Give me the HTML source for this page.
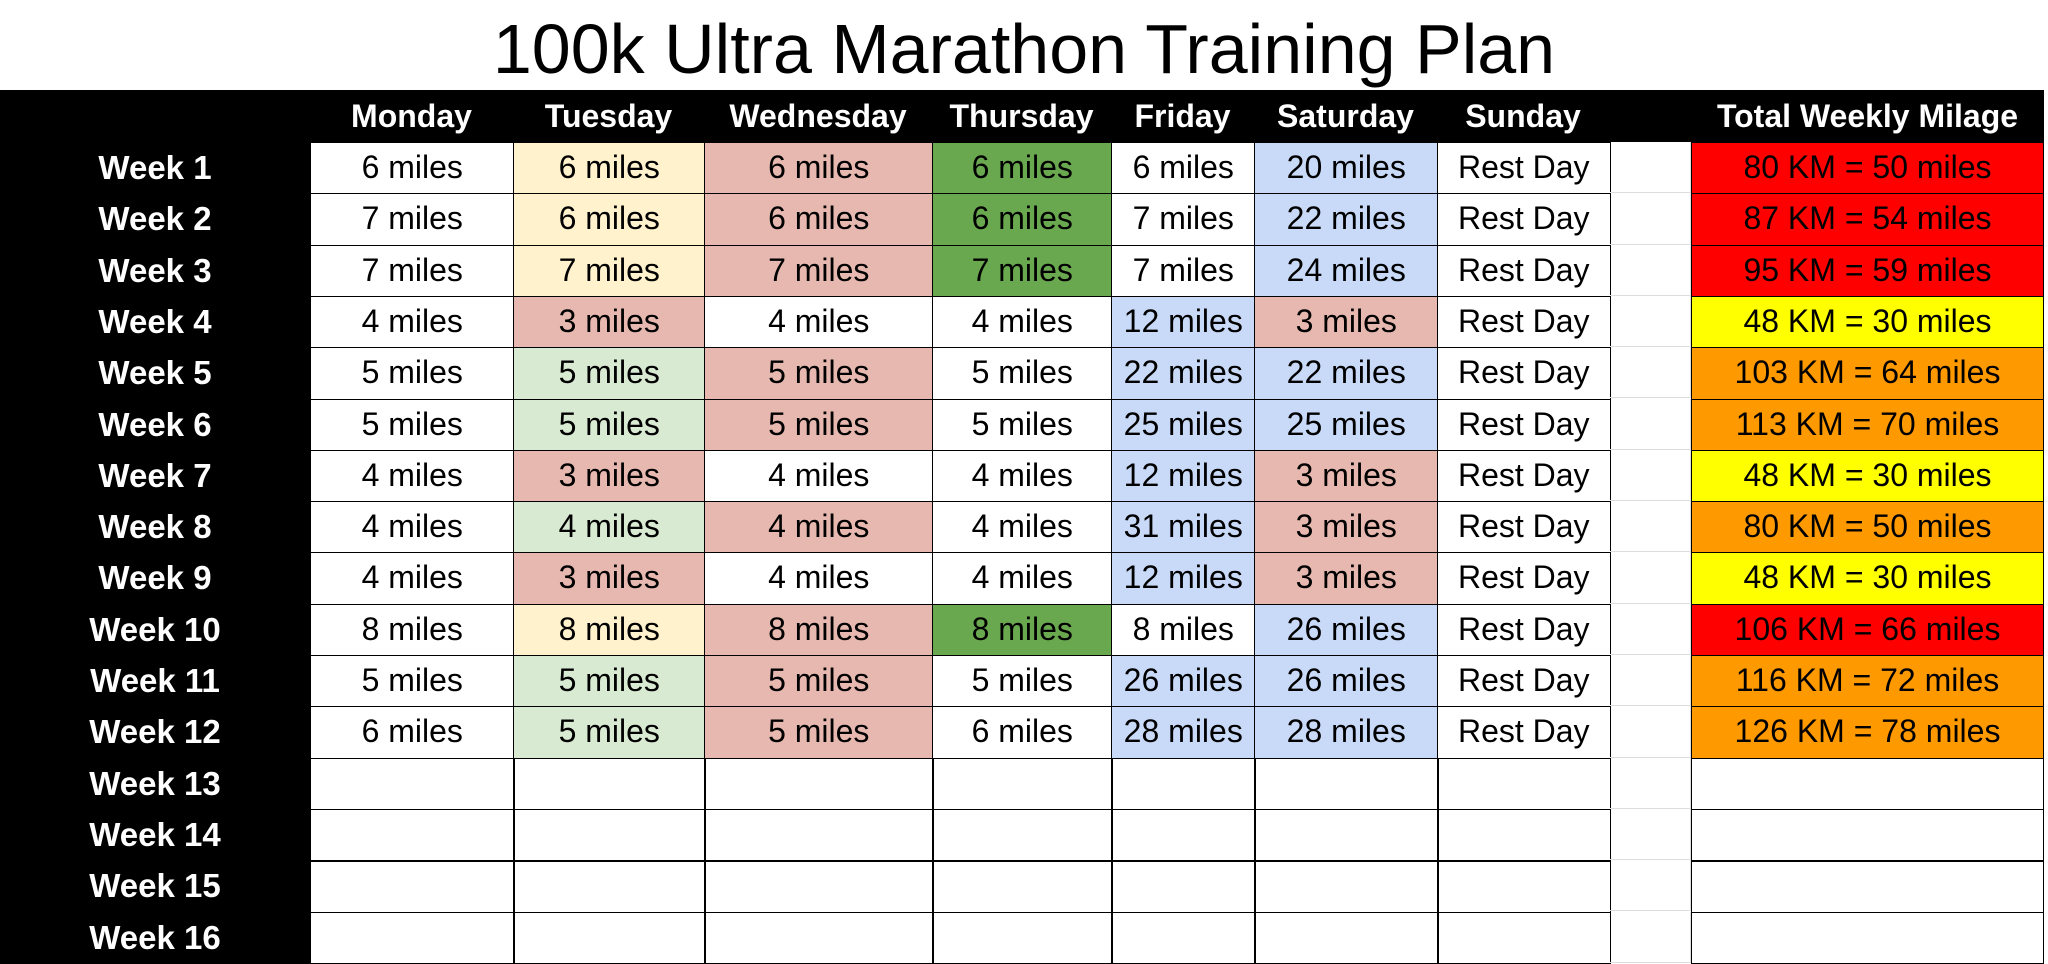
<!DOCTYPE html>
<html><head><meta charset="utf-8">
<style>
html,body{margin:0;padding:0;background:#fff;}
#root{position:relative;width:2048px;height:964px;overflow:hidden;font-family:"Liberation Sans",Arial,sans-serif;}
.title{position:absolute;left:0;width:2048px;top:8px;text-align:center;font-size:70px;line-height:82px;color:#000;}
.blk{position:absolute;background:#000;}
.hdr{position:absolute;color:#fff;font-weight:bold;font-size:32px;text-align:center;line-height:52px;white-space:nowrap;}
.wk{position:absolute;color:#fff;font-weight:bold;font-size:33px;text-align:center;white-space:nowrap;}
.cell{position:absolute;box-sizing:border-box;border:1.5px solid #000;font-size:32px;text-align:center;color:#000;white-space:nowrap;}
.gap{position:absolute;box-sizing:border-box;border-bottom:1px solid #ddd;border-right:1px solid #ddd;}
</style></head>
<body>
<div id="root">
<div class="title">100k Ultra Marathon Training Plan</div>
<div class="blk" style="left:0;top:90px;width:2044px;height:52px"></div>
<div class="blk" style="left:0;top:90px;width:310px;height:874px"></div>
</div>
<script>
const days = ["Monday","Tuesday","Wednesday","Thursday","Friday","Saturday","Sunday"];
const weeks = ["Week 1","Week 2","Week 3","Week 4","Week 5","Week 6","Week 7","Week 8","Week 9","Week 10","Week 11","Week 12","Week 13","Week 14","Week 15","Week 16"];
const miles = [
 [6,6,6,6,6,20,"Rest Day"],
 [7,6,6,6,7,22,"Rest Day"],
 [7,7,7,7,7,24,"Rest Day"],
 [4,3,4,4,12,3,"Rest Day"],
 [5,5,5,5,22,22,"Rest Day"],
 [5,5,5,5,25,25,"Rest Day"],
 [4,3,4,4,12,3,"Rest Day"],
 [4,4,4,4,31,3,"Rest Day"],
 [4,3,4,4,12,3,"Rest Day"],
 [8,8,8,8,8,26,"Rest Day"],
 [5,5,5,5,26,26,"Rest Day"],
 [6,5,5,6,28,28,"Rest Day"]
];
const fills = ["WYPGWBW","WYPGWBW","WYPGWBW","WPWWBPW","WLPWBBW","WLPWBBW","WPWWBPW","WLPWBPW","WPWWBPW","WYPGWBW","WLPWBBW","WLPWBBW"];
const totalsKm = [80,87,95,48,103,113,48,80,48,106,116,126];
const totalsMi = [50,54,59,30,64,70,30,50,30,66,72,78];
const totalFill = ["R","R","R","Y","O","O","Y","O","Y","R","O","O"];

const pal = {W:"#ffffff",Y:"#fff2cc",P:"#e6b8af",G:"#6aa84f",B:"#c9daf8",L:"#d9ead3"};
const tpal = {R:"#ff0000",Y:"#ffff00",O:"#ff9900"};
const colX = [310,513,704,932,1111,1254,1437,1609];
const totX = [1691,2044];
const rowTop = 142, rowH = 51.3;
const root = document.getElementById('root');
function rowY(i){return rowTop + i*rowH;}

days.forEach((d,j)=>{
  const h=document.createElement('div');
  h.className='hdr';
  
  
  h.style.left=colX[j]+'px';h.style.width=(colX[j+1]-colX[j])+'px';h.style.top='90px';
  h.textContent=d;root.appendChild(h);
});
const th=document.createElement('div');
th.className='hdr';


th.style.left=totX[0]+'px';th.style.width=(totX[1]-totX[0])+'px';th.style.top='90px';
th.textContent='Total Weekly Milage';root.appendChild(th);

weeks.forEach((w,i)=>{
  const y=rowY(i);
  const l=document.createElement('div');
  l.className='wk';
  
  
  l.style.left='0px';l.style.width='310px';l.style.top=y+'px';l.style.lineHeight=rowH+'px';
  l.textContent=w;root.appendChild(l);
  for(let j=0;j<7;j++){
    const c=document.createElement('div');
    c.className='cell';
    
    
    c.style.left=colX[j]+'px';c.style.top=y+'px';
    c.style.width=(colX[j+1]-colX[j]+1.5)+'px';c.style.height=(rowH+1.5)+'px';
    c.style.lineHeight=(rowH-2)+'px';
    if(i<miles.length){
      const v=miles[i][j];
      c.textContent = typeof v==='number' ? v+' miles' : v;
      c.style.background=pal[fills[i][j]];
    }
    root.appendChild(c);
  }
  const g=document.createElement('div');
  g.className='gap';
  
  
  g.style.left=(colX[7]+1)+'px';g.style.top=y+'px';
  g.style.width=(totX[0]-colX[7]-1)+'px';g.style.height=rowH+'px';
  root.appendChild(g);
  const t=document.createElement('div');
  t.className='cell';
  
  
  t.style.left=totX[0]+'px';t.style.top=y+'px';
  t.style.width=(totX[1]-totX[0])+'px';t.style.height=(rowH+1.5)+'px';
  t.style.lineHeight=(rowH-2)+'px';
  if(i<totalsKm.length){
    t.textContent=totalsKm[i]+' KM = '+totalsMi[i]+' miles';
    t.style.background=tpal[totalFill[i]];
  }
  root.appendChild(t);
});
</script>
</body></html>
